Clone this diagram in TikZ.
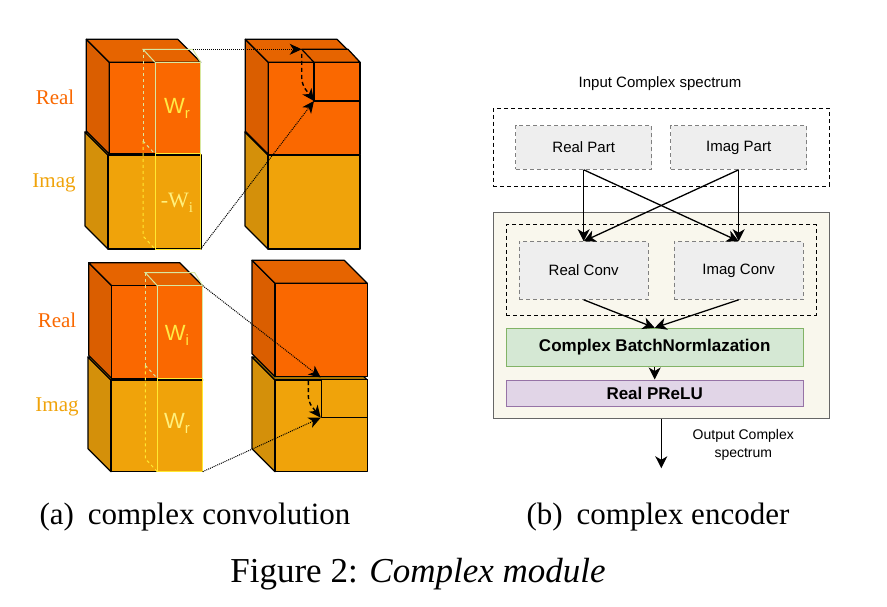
\documentclass[tikz,border=0pt]{standalone}
\usepackage{fontspec}
\setmainfont{Liberation Serif}
\setsansfont{Liberation Sans}
\usepackage{xcolor}
\usepackage{tikz}
\usetikzlibrary{arrows.meta,positioning}

\definecolor{realfront}{HTML}{FA6800}
\definecolor{realside}{HTML}{DA5E00}
\definecolor{realtop}{HTML}{E66400}
\definecolor{imagfront}{HTML}{F0A30A}
\definecolor{imagside}{HTML}{D4900A}
\definecolor{imagtop}{HTML}{A87400}
\definecolor{kernreal}{HTML}{D8E8A0}
\definecolor{kernimag}{HTML}{FFE830}
\definecolor{kerntext}{HTML}{FFEA45}
\definecolor{partfill}{HTML}{EEEEEE}
\definecolor{encfill}{HTML}{F9F7ED}
\definecolor{bnfill}{HTML}{D5E8D4}
\definecolor{bnline}{HTML}{82B366}
\definecolor{relufill}{HTML}{E1D5E7}
\definecolor{reluline}{HTML}{9673A6}

\tikzset{
  cubeedge/.style={draw=black,line width=1.2pt,line join=round},
  klin/.style={line width=1pt},
  reallab/.style={inner sep=0pt,text=realfront,font=\fontsize{21}{24}\selectfont},
  imaglab/.style={inner sep=0pt,text=imagfront,font=\fontsize{21}{24}\selectfont},
  wlab/.style={inner sep=0pt,text=kerntext,font=\sffamily\fontsize{22}{24}\selectfont},
  dotarrow/.style={densely dotted,line width=1pt,-{Stealth[length=12pt,width=11pt,inset=3.5pt]}},
  dasharrow/.style={dash pattern=on 4pt off 3pt,line width=1.4pt,rounded corners=6pt,-{Stealth[length=12pt,width=11pt,inset=3.5pt]}},
  sf/.style={font=\sffamily\fontsize{15}{18}\selectfont},
  partbox/.style={sf,draw=gray,dash pattern=on 4pt off 3pt,fill=partfill,line width=1pt,minimum width=136pt,minimum height=43.6pt},
  convbox/.style={partbox,minimum width=129.3pt,minimum height=57.6pt},
  groupbox/.style={draw=black,dash pattern=on 4pt off 3pt,line width=1pt},
  arr/.style={line width=1.3pt,-{Stealth[length=12pt,width=12pt,inset=3.5pt]}},
  captext/.style={inner sep=0pt,font=\fontsize{31}{36}\selectfont}
}

\newcommand{\cubeblock}[5]{%
  \filldraw[#5side,cubeedge] (#1,#2) -- ++(-23,-23) -- ++(0,#4) -- ++(23,23) -- cycle;
  \filldraw[#5top,cubeedge] (#1,#2) -- ++(-23,-23) -- ++(#3,0) -- ++(23,23) -- cycle;
  \filldraw[#5front,cubeedge] (#1,#2) rectangle ++(#3,#4);
}
\newcommand{\kernelbox}[5]{%
  \draw[klin,kernreal] (#1,#3) rectangle (#2,#5);
  \draw[klin,kernimag] (#1,#5) rectangle (#2,#4);
  \draw[klin,kernreal] (#1,#3) -- ++(-12,-13) -- (#2-8,#3-13) -- (#2,#3);
  \draw[klin,kernreal,dashed] (#1-12,#3-13) -- (#1-12,#5-13);
  \draw[klin,kernimag,dashed] (#1-12,#5-13) -- (#1-12,#4-13) -- (#1,#4);
  \draw[klin,kernreal,dashed] (#1-12,#5-13) -- (#1,#5);
}
\newcommand{\wsub}[1]{\raisebox{-5pt}{\fontsize{15}{15}\selectfont #1}}

\begin{document}
\begin{tikzpicture}[x=1pt,y=-1pt]
\useasboundingbox (0,0) rectangle (887,607);

\cubeblock{108}{155}{93}{94}{imag}
\cubeblock{109.3}{62.3}{91.4}{91.7}{real}
\kernelbox{155}{200.7}{62.3}{249}{154}
\node[reallab] (real1) at (55,97) {Real};
\node[imaglab] (imag1) at (54,183) {Imag};
\node[wlab] (wr1) at (177,108) {W\wsub{r}};
\node[wlab,font=\fontsize{22}{24}\selectfont,text=kerntext!70!white] (wi1) at (177,203) {-W\wsub{i}};

\cubeblock{268}{155}{92}{94}{imag}
\cubeblock{268.3}{62.3}{91.7}{92}{real}
\filldraw[realtop,cubeedge] (314,62.3) -- (301.7,49.3) -- (348,49.3) -- (360,62.3) -- cycle;
\filldraw[realfront,cubeedge] (314,62.3) rectangle (360,101);

\coordinate (k1top) at (193,49.3);
\coordinate (k1bot) at (200.7,249);
\coordinate (s1back) at (301.7,49.3);
\coordinate (s1hid) at (301.7,54);
\coordinate (s1front) at (314,101);
\draw[dotarrow] (k1top) -- (s1back);
\draw[dasharrow] (s1hid) -- (301.7,84) -- (s1front);
\draw[dotarrow] (k1bot) -- (s1front);

\cubeblock{111}{380}{91.7}{91.7}{imag}
\cubeblock{111.7}{285.7}{91}{92.6}{real}
\kernelbox{157.3}{202.7}{285.7}{471.7}{378.3}
\node[reallab] (real2) at (57,320) {Real};
\node[imaglab] (imag2) at (57,407) {Imag};
\node[wlab] (wi2) at (177,335) {W\wsub{i}};
\node[wlab,text=kerntext!70!white] (wr2) at (177,423) {W\wsub{r}};

\cubeblock{275}{380}{92.3}{91.7}{imag}
\cubeblock{275}{283.3}{92.3}{93.5}{real}
\filldraw[imagfront,cubeedge] (321.7,379.5) rectangle (367.3,417.7);

\coordinate (k2top) at (202.7,285.7);
\coordinate (k2bot) at (202.7,471.7);
\coordinate (s2back) at (320.7,377.5);
\coordinate (s2hid) at (308.3,381);
\coordinate (s2front) at (320.7,417.7);
\draw[dotarrow] (k2top) -- (s2back);
\draw[dasharrow] (s2hid) -- (308.3,402) -- (s2front);
\draw[dotarrow] (k2bot) -- (s2front);

\node[sf,inner sep=0pt] (intitle) at (660,83.3) {Input Complex spectrum};
\node[groupbox,minimum width=336pt,minimum height=77.7pt] (inbox) at (661.3,147.2) {};
\node[partbox] (rpart) at (583.7,147.5) {Real Part};
\node[partbox] (ipart) at (738.7,147.5) {Imag Part};

\node[draw=gray!80!black,fill=encfill,line width=1.2pt,minimum width=336pt,minimum height=206pt] (enc) at (661.3,315.3) {};
\node[groupbox,minimum width=310pt,minimum height=90pt] (convgrp) at (661,270) {};
\node[convbox] (rconv) at (583.7,270.5) {Real Conv};
\node[convbox] (iconv) at (738.7,270.5) {Imag Conv};
\node[draw=bnline,fill=bnfill,line width=1pt,minimum width=297.3pt,minimum height=38.4pt,font=\sffamily\bfseries\fontsize{17}{20}\selectfont] (bn) at (654.7,347.5) {Complex BatchNormlazation};
\node[draw=reluline,fill=relufill,line width=1pt,minimum width=297.3pt,minimum height=26pt,font=\sffamily\bfseries\fontsize{17}{20}\selectfont] (relu) at (654.7,393) {Real PReLU};

\draw[arr] (rpart.south) -- (rconv.north);
\draw[arr] (rpart.south) -- (iconv.north);
\draw[arr] (ipart.south) -- (rconv.north);
\draw[arr] (ipart.south) -- (iconv.north);
\draw[arr] (rconv.south) -- (bn.north);
\draw[arr] (iconv.south) -- (bn.north);
\draw[arr] (bn.south) -- (relu.north);
\coordinate (out) at (661.3,468.3);
\draw[arr] (enc.south) -- (out);
\node[align=center,inner sep=0pt,font=\sffamily\fontsize{14}{18}\selectfont] (outlbl) at (743.3,445) {Output Complex\\spectrum};

\node[captext] (capa) at (195,517) {(a)\hspace{0.45em}complex convolution};
\node[captext] (capb) at (658,517) {(b)\hspace{0.45em}complex encoder};
\node[captext,font=\fontsize{35}{40}\selectfont] (figcap) at (418,574) {Figure 2: \textit{Complex module}};
\end{tikzpicture}
\end{document}
